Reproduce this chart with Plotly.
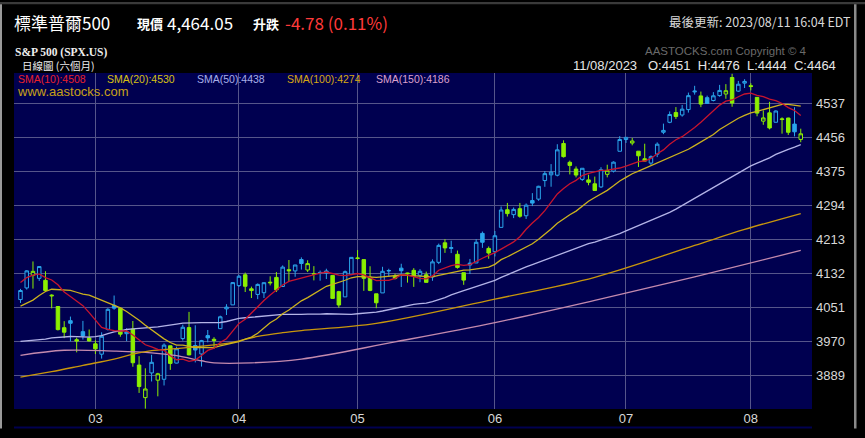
import plotly.graph_objects as go

# ---------------- data ----------------
dates = [
    "2023-02-10", "2023-02-13", "2023-02-14", "2023-02-15", "2023-02-16", "2023-02-17", "2023-02-21", "2023-02-22",
    "2023-02-23", "2023-02-24", "2023-02-27", "2023-02-28",
    "2023-03-01", "2023-03-02", "2023-03-03", "2023-03-06", "2023-03-07", "2023-03-08", "2023-03-09", "2023-03-10",
    "2023-03-13", "2023-03-14", "2023-03-15", "2023-03-16", "2023-03-17", "2023-03-20", "2023-03-21", "2023-03-22",
    "2023-03-23", "2023-03-24", "2023-03-27", "2023-03-28", "2023-03-29", "2023-03-30", "2023-03-31",
    "2023-04-03", "2023-04-04", "2023-04-05", "2023-04-06", "2023-04-10", "2023-04-11", "2023-04-12", "2023-04-13",
    "2023-04-14", "2023-04-17", "2023-04-18", "2023-04-19", "2023-04-20", "2023-04-21", "2023-04-24", "2023-04-25",
    "2023-04-26", "2023-04-27", "2023-04-28",
    "2023-05-01", "2023-05-02", "2023-05-03", "2023-05-04", "2023-05-05", "2023-05-08", "2023-05-09", "2023-05-10",
    "2023-05-11", "2023-05-12", "2023-05-15", "2023-05-16", "2023-05-17", "2023-05-18", "2023-05-19", "2023-05-22",
    "2023-05-23", "2023-05-24", "2023-05-25", "2023-05-26", "2023-05-30", "2023-05-31",
    "2023-06-01", "2023-06-02", "2023-06-05", "2023-06-06", "2023-06-07", "2023-06-08", "2023-06-09", "2023-06-12",
    "2023-06-13", "2023-06-14", "2023-06-15", "2023-06-16", "2023-06-20", "2023-06-21", "2023-06-22", "2023-06-23",
    "2023-06-26", "2023-06-27", "2023-06-28", "2023-06-29", "2023-06-30",
    "2023-07-03", "2023-07-05", "2023-07-06", "2023-07-07", "2023-07-10", "2023-07-11", "2023-07-12", "2023-07-13",
    "2023-07-14", "2023-07-17", "2023-07-18", "2023-07-19", "2023-07-20", "2023-07-21", "2023-07-24", "2023-07-25",
    "2023-07-26", "2023-07-27", "2023-07-28", "2023-07-31",
    "2023-08-01", "2023-08-02", "2023-08-03", "2023-08-04", "2023-08-07", "2023-08-08", "2023-08-09", "2023-08-10",
    "2023-08-11",
]

open_ = [
    4068.92, 4096.62, 4126.70, 4119.50, 4114.75, 4077.39, 4052.35, 4001.83, 4018.60, 3973.24, 3992.36, 3977.19,
    3963.34, 3938.68, 3998.02, 4055.15, 4048.26, 3987.55, 3998.66, 3912.77, 3835.12, 3894.01, 3876.74, 3878.93,
    3958.69, 3917.47, 3975.89, 4002.04, 3959.21, 3939.21, 3982.93, 3974.13, 3999.53, 4046.74, 4056.18,
    4102.20, 4128.03, 4094.50, 4081.15, 4085.20, 4110.29, 4121.72, 4100.04, 4140.11, 4137.17, 4164.26, 4139.33,
    4130.48, 4132.14, 4132.07, 4126.43, 4087.78, 4075.29, 4129.63,
    4166.79, 4164.10, 4122.25, 4082.61, 4084.73, 4136.98, 4124.25, 4143.74, 4132.24, 4138.54, 4126.65, 4127.95,
    4122.85, 4157.68, 4204.15, 4190.78, 4176.80, 4132.96, 4155.71, 4156.16, 4226.71, 4190.74,
    4183.03, 4241.01, 4282.99, 4271.34, 4285.47, 4268.69, 4304.88, 4308.32, 4352.61, 4366.29, 4365.33, 4440.95,
    4396.11, 4380.01, 4355.40, 4354.17, 4344.84, 4337.36, 4367.48, 4374.94, 4422.44,
    4450.48, 4442.04, 4422.62, 4404.54, 4394.23, 4415.55, 4467.69, 4491.50, 4514.61, 4508.86, 4521.78, 4563.87,
    4554.38, 4550.16, 4543.39, 4555.19, 4558.96, 4598.26, 4565.75, 4584.82,
    4578.83, 4550.93, 4494.27, 4513.96, 4491.58, 4498.03, 4501.57, 4487.16, 4450.69,
]

high = [
    4094.36, 4138.90, 4159.77, 4148.11, 4136.54, 4081.51, 4052.35, 4017.37, 4028.30, 3978.25, 4018.05, 3997.50,
    3971.73, 3990.84, 4048.29, 4078.49, 4050.00, 4000.41, 4017.81, 3934.05, 3905.05, 3937.29, 3894.26, 3964.46,
    3958.91, 3956.62, 4009.08, 4039.49, 4007.66, 3972.74, 3996.38, 3979.20, 4030.59, 4057.85, 4110.75,
    4127.66, 4133.13, 4099.69, 4107.32, 4109.50, 4124.26, 4134.37, 4150.26, 4163.19, 4151.72, 4169.48, 4162.57,
    4148.57, 4138.02, 4142.41, 4126.43, 4089.67, 4138.24, 4170.06,
    4186.92, 4164.10, 4148.30, 4082.61, 4147.02, 4142.30, 4130.35, 4154.28, 4132.80, 4143.74, 4141.25, 4135.54,
    4164.67, 4202.20, 4212.91, 4209.22, 4185.68, 4132.96, 4165.74, 4212.87, 4231.10, 4195.44,
    4232.43, 4290.67, 4299.28, 4288.33, 4299.19, 4298.01, 4322.62, 4340.13, 4375.37, 4391.82, 4439.20, 4448.47,
    4400.15, 4386.22, 4382.25, 4366.55, 4362.06, 4384.42, 4390.35, 4398.39, 4458.48,
    4456.46, 4454.06, 4422.62, 4440.39, 4412.60, 4443.64, 4488.34, 4517.38, 4527.76, 4532.85, 4562.30, 4578.43,
    4564.74, 4555.00, 4563.41, 4580.62, 4582.47, 4607.07, 4590.16, 4594.22,
    4584.62, 4550.93, 4519.49, 4540.34, 4519.84, 4503.31, 4502.44, 4527.37, 4476.23,
]

low = [
    4060.79, 4092.67, 4095.01, 4113.35, 4089.49, 4047.95, 3995.19, 3976.90, 3969.19, 3943.08, 3973.55, 3968.98,
    3939.05, 3928.16, 3995.17, 4044.61, 3980.31, 3969.76, 3908.70, 3846.32, 3808.86, 3873.63, 3838.24, 3864.11,
    3901.27, 3916.89, 3971.19, 3936.17, 3919.05, 3909.16, 3966.92, 3951.53, 3999.53, 4032.10, 4056.18,
    4098.79, 4086.87, 4072.56, 4069.84, 4072.55, 4102.61, 4086.94, 4099.40, 4113.20, 4123.18, 4140.36, 4134.49,
    4114.57, 4113.86, 4117.77, 4071.38, 4049.35, 4075.29, 4127.18,
    4164.12, 4089.72, 4088.86, 4048.28, 4084.73, 4123.81, 4116.65, 4098.92, 4109.29, 4099.12, 4110.27, 4109.86,
    4113.62, 4153.50, 4180.20, 4179.68, 4142.54, 4103.98, 4129.73, 4156.16, 4192.18, 4166.15,
    4171.64, 4241.01, 4266.82, 4263.09, 4263.96, 4261.07, 4291.70, 4304.37, 4337.66, 4337.85, 4362.60, 4407.44,
    4367.19, 4360.14, 4351.82, 4341.34, 4328.08, 4335.00, 4360.22, 4371.97, 4422.44,
    4442.29, 4436.61, 4385.05, 4397.40, 4389.92, 4408.46, 4463.23, 4489.36, 4499.56, 4504.90, 4514.59, 4557.48,
    4527.56, 4535.79, 4541.29, 4552.42, 4547.58, 4528.56, 4564.01, 4573.14,
    4567.53, 4505.75, 4485.54, 4474.55, 4491.15, 4464.39, 4461.33, 4457.92, 4443.98,
]

close = [
    4090.46, 4137.29, 4136.13, 4147.60, 4090.41, 4079.09, 3997.34, 3991.05, 4012.32, 3970.04, 3982.24, 3970.15,
    3951.39, 3981.35, 4045.64, 4048.42, 3986.37, 3992.01, 3918.32, 3861.59, 3855.76, 3919.29, 3891.93, 3960.28,
    3916.64, 3951.57, 4002.87, 3936.97, 3948.72, 3970.99, 3977.53, 3971.27, 4027.81, 4050.83, 4109.31,
    4124.51, 4100.60, 4090.38, 4105.02, 4109.11, 4108.94, 4091.95, 4146.22, 4137.64, 4151.32, 4154.87, 4154.52,
    4129.79, 4133.52, 4137.04, 4071.63, 4055.99, 4135.35, 4169.48,
    4167.87, 4119.58, 4090.75, 4061.22, 4136.25, 4138.12, 4119.17, 4137.64, 4130.62, 4124.08, 4136.28, 4109.90,
    4158.77, 4198.05, 4191.98, 4192.63, 4145.58, 4115.24, 4151.28, 4205.45, 4205.52, 4179.83,
    4221.02, 4282.37, 4273.79, 4283.85, 4267.52, 4293.93, 4298.86, 4338.93, 4369.01, 4372.59, 4425.84, 4409.59,
    4388.71, 4365.69, 4381.89, 4348.33, 4328.82, 4378.41, 4376.86, 4396.44, 4450.38,
    4455.59, 4446.82, 4411.59, 4398.95, 4409.53, 4439.26, 4472.16, 4510.04, 4505.42, 4522.79, 4554.98, 4565.72,
    4534.87, 4536.34, 4554.64, 4567.46, 4566.75, 4537.41, 4582.23, 4588.96,
    4576.73, 4513.39, 4501.89, 4478.03, 4518.44, 4499.38, 4467.71, 4468.83, 4464.05,
]

# closes before the first visible day (2022-11-30 .. 2023-02-09), used by the moving averages
hist_close = [
    4080.11, 4076.57, 4071.70, 3998.84, 3941.26, 3933.92, 3963.51, 3934.38, 3990.56, 4019.65, 3995.32, 3895.75,
    3852.36, 3817.66, 3821.62, 3878.44, 3822.39, 3844.82, 3829.25, 3783.22, 3849.28, 3839.50,
    3824.14, 3852.97, 3808.10, 3895.08, 3892.09, 3919.25, 3969.61, 3983.17, 3999.09, 3990.97, 3928.86, 3898.85,
    3972.61, 4019.81, 4016.95, 4016.22, 4060.43, 4070.56, 4017.77, 4076.60,
    4119.21, 4179.76, 4136.48, 4111.08, 4164.00, 4117.86, 4081.50,
]

# long moving averages (trading-day index -> value)
sma100_idx = [0, 5, 10, 15, 18, 21, 25, 29, 34, 38, 42, 45, 57, 76, 92, 108, 116, 125]
sma100_val = [3884, 3897, 3912, 3927, 3939, 3947, 3952, 3958, 3967, 3981, 3990, 3995, 4012, 4070, 4122, 4198, 4236, 4274]
sma150_idx = [0, 7, 15, 21, 25, 29, 31, 37, 45, 60, 76, 92, 108, 125]
sma150_val = [3936, 3948, 3946, 3942, 3935, 3923, 3918, 3918, 3927, 3968, 4014, 4067, 4123, 4186]

y_ticks = [3889, 3970, 4051, 4132, 4213, 4294, 4375, 4456, 4537]
y_range = [3808, 4609]

title_cn = "標準普爾500"
subtitle = "S&P 500 (SPX.US)"
chart_kind = "日線圖 (六個月)"
update_time = "16:04 EDT"

# ---------------- derived ----------------
n = len(close)
xs = list(range(n))
prev = [hist_close[-1]] + close[:-1]
H0 = len(hist_close)
allc = hist_close + close


def sma(k):
    return [sum(allc[H0 + i - k + 1:H0 + i + 1]) / k for i in xs]


sma10, sma20, sma50 = sma(10), sma(20), sma(50)

month_idx = [i for i in xs if i > 0 and dates[i][5:7] != dates[i - 1][5:7]]
month_txt = [dates[i][5:7] for i in month_idx]

NAVY = "#000050"
BLUE = "#2aa6ec"
GREEN = "#8cf000"
GRID = "#55558a"

W, H = 865, 438
PL, PR, PT, PB = 14, 812, 73, 418


def px(x):
    return (x - PL) / (PR - PL)


def py(y):
    return (PB - y) / (PB - PT)


fig = go.Figure()


def candles(idx, col):
    return go.Candlestick(
        x=idx,
        open=[open_[i] for i in idx], high=[high[i] for i in idx],
        low=[low[i] for i in idx], close=[close[i] for i in idx],
        increasing=dict(line=dict(color=col, width=1), fillcolor=NAVY),
        decreasing=dict(line=dict(color=col, width=1), fillcolor=col),
        whiskerwidth=0, showlegend=False,
    )


up_idx = [i for i in xs if close[i] >= prev[i]]
dn_idx = [i for i in xs if close[i] < prev[i]]
fig.add_trace(candles(up_idx, BLUE))
fig.add_trace(candles(dn_idx, GREEN))

LINE_COLS = {"150": "#c48aae", "100": "#c8960c", "50": "#b4b4e8", "20": "#ccb21e", "10": "#c8142e"}
fig.add_trace(go.Scatter(x=sma150_idx, y=sma150_val, mode="lines", line=dict(color=LINE_COLS["150"], width=1.3, shape="spline"), showlegend=False))
fig.add_trace(go.Scatter(x=sma100_idx, y=sma100_val, mode="lines", line=dict(color=LINE_COLS["100"], width=1.3, shape="spline"), showlegend=False))
fig.add_trace(go.Scatter(x=xs, y=sma50, mode="lines", line=dict(color=LINE_COLS["50"], width=1.3), showlegend=False))
fig.add_trace(go.Scatter(x=xs, y=sma20, mode="lines", line=dict(color=LINE_COLS["20"], width=1.3), showlegend=False))
fig.add_trace(go.Scatter(x=xs, y=sma10, mode="lines", line=dict(color=LINE_COLS["10"], width=1.3), showlegend=False))

AX_FONT = dict(family="Liberation Sans Narrow, Arial Narrow, Liberation Sans, sans-serif", size=13, color="#d8d8d8")

fig.update_layout(
    width=W, height=H,
    margin=dict(l=PL, r=W - PR, t=PT, b=H - PB, pad=0),
    paper_bgcolor="#000000", plot_bgcolor=NAVY,
    showlegend=False,
    boxgap=0.2,
    xaxis=dict(range=[-1.04, 126.8], tickvals=month_idx, ticktext=month_txt, showgrid=True,
               gridcolor=GRID, gridwidth=1, zeroline=False, showline=False, ticks="",
               tickfont=AX_FONT, rangeslider=dict(visible=False), fixedrange=True),
    yaxis=dict(side="right", range=y_range, tickvals=y_ticks, ticktext=[str(v) for v in y_ticks],
               showgrid=True, gridcolor=GRID, gridwidth=1, zeroline=False, showline=False, ticks="",
               ticklabelstandoff=3, tickfont=AX_FONT, fixedrange=True),
)

CJK = "Noto Sans CJK TC, Noto Sans, sans-serif"
SANS = "Liberation Sans, Arial, sans-serif"


def ann(text, x, y, size, color, anchor="left", family=CJK):
    fig.add_annotation(text=text, x=px(x), y=py(y), xref="paper", yref="paper", showarrow=False,
                       xanchor=anchor, yanchor="middle", font=dict(family=family, size=size, color=color),
                       borderpad=0, borderwidth=0)


last = close[-1]
chg = last - close[-2]
pct = abs(chg) / close[-2] * 100
d = dates[-1]
ddmmyyyy = f"{d[8:10]}/{d[5:7]}/{d[0:4]}"
SP = "\u00a0"

ann(title_cn, 14, 21, 17, "#ffffff")
ann("<b>現價</b>", 137, 22, 13, "#ffffff")
ann(f"{last:,.2f}", 167, 21, 17, "#ffffff")
ann("<b>升跌</b>", 253, 22, 13, "#ffffff")
ann(f"{chg:.2f} ({pct:.2f}%)", 285, 21, 17, "#ff3a3a")
ann(f"最後更新: {d.replace('-', '/')} {update_time}", 851, 20, 12.5, "#d8d8d8", anchor="right")

ann(f"<b>{subtitle}</b>", 15, 52, 11.5, "#eeeeee", family="Liberation Serif, DejaVu Serif, serif")
ann(chart_kind, 22, 64.8, 10.5, "#eeeeee")
ann("AASTOCKS.com Copyright © 4", 807, 50, 11.5, "#6a6a6a", anchor="right", family=SANS)
ohlc_txt = (f"{ddmmyyyy}{SP * 3}O:{open_[-1]:.0f}{SP * 2}H:{high[-1]:.0f}{SP * 2}"
            f"L:{low[-1]:.0f}{SP * 2}C:{last:.0f}")
ann(ohlc_txt, 836, 65.5, 13, "#e6e6e6", anchor="right", family=SANS)

LEG_COLS = {"10": "#e8202a", "20": "#d8c010", "50": "#a8aee8", "100": "#d8a810", "150": "#dca0cc"}
leg_vals = [("10", sma10[-1], 18), ("20", sma20[-1], 107), ("50", sma50[-1], 197),
            ("100", sma100_val[-1], 287), ("150", sma150_val[-1], 376)]
for k, v, xpos in leg_vals:
    ann(f"SMA({k}):{v:.0f}", xpos, 79, 10.5, LEG_COLS[k], family=SANS)
ann("www.aastocks.com", 17, 91.5, 13, "#c8a018", family=SANS)

# frame pieces
fig.add_shape(type="rect", xref="paper", yref="paper", x0=px(0), x1=px(W), y0=py(0), y1=py(2.5),
              fillcolor="#3a3a3a", line_width=0)
fig.add_shape(type="rect", xref="paper", yref="paper", x0=px(0), x1=px(2), y0=py(2.5), y1=py(H),
              fillcolor="#9a9a9a", line_width=0)
fig.add_shape(type="rect", xref="paper", yref="paper", x0=px(854), x1=px(856.5), y0=py(2.5), y1=py(H),
              fillcolor="#8a8a8a", line_width=0)
fig.add_shape(type="rect", xref="paper", yref="paper", x0=px(PL), x1=px(PR), y0=py(436), y1=py(H),
              fillcolor=NAVY, line_width=0)

fig.write_html("out.html", config={"displayModeBar": False},
               post_script="document.body.style.margin='0';document.body.style.overflow='hidden';")
